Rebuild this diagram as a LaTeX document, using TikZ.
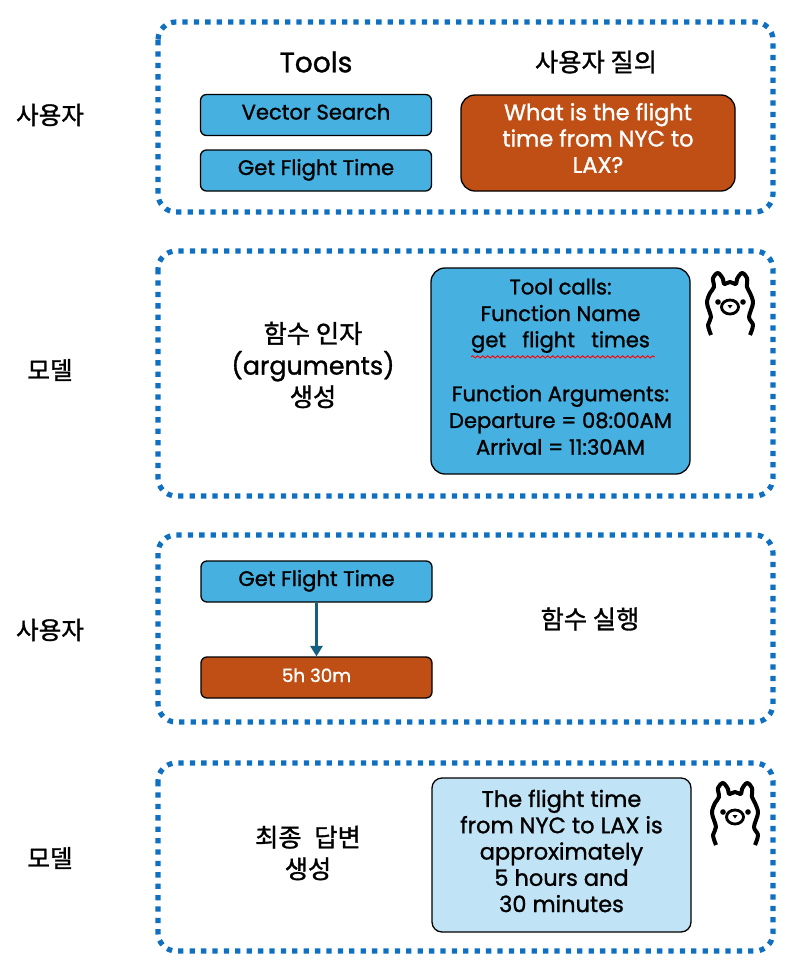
\documentclass[tikz,border=0pt]{standalone}
\usepackage{fontspec}
\setmainfont[RawFeature={embolden=1.2}]{Poppins}
\newfontfamily\kofont[RawFeature={embolden=1.2}]{Noto Sans CJK KR}
\usetikzlibrary{arrows.meta,decorations.pathmorphing}

\newdimen\pxu
\pxu=0.025cm
\definecolor{panelblue}{HTML}{0F6FC0}
\definecolor{toolblue}{HTML}{46B1E1}
\definecolor{rust}{HTML}{C04F15}
\definecolor{paleblue}{HTML}{C0E4F5}
\definecolor{arrowblue}{HTML}{156082}

\tikzset{
  panel/.style={draw=panelblue,line width=5.2\pxu,dash pattern=on 5.3\pxu off 6.1\pxu,rounded corners=18\pxu},
  toolbox/.style={draw=black,fill=toolblue,line width=1.3\pxu,rounded corners=6\pxu,minimum width=231\pxu,minimum height=41\pxu,text height=10pt,text depth=3.6pt,font=\fontsize{15}{18.5}\selectfont},
  querybox/.style={draw=black,fill=rust,line width=1.3\pxu,rounded corners=14\pxu},
  bluebox/.style={draw=black,fill=toolblue,line width=1.3\pxu,rounded corners=14\pxu},
  palebox/.style={draw=black,fill=paleblue,line width=1.3\pxu,rounded corners=10\pxu},
  boxtext/.style={align=center,font=\fontsize{15}{19}\selectfont},
  rolelabel/.style={font=\kofont\fontsize{17.5}{20}\selectfont},
  title/.style={align=center,font=\kofont\fontsize{18}{22.5}\selectfont},
  pics/llama/.style={code={
    \draw[line width=4\pxu,line join=round,fill=white] plot[smooth,tension=0.55] coordinates {
      (-19,30) (-22,20) (-19,12) (-23,-2) (-20,-12) (-16,-18) (-17,-27) (-12,-32) (-7,-26) (-6,-21)
      (0,-23) (6,-21) (7,-26) (12,-32) (17,-27) (17,-18) (20,-12) (23,-2) (19,12) (23,20) (20,30)};
    \fill (-12,-3) circle (2.8);
    \fill (13,-3) circle (2.8);
    \draw[line width=2.8\pxu] (0,2) ellipse (8.5 and 7);
    \fill (-2.5,0) -- (2.5,0) -- (0,3.5) -- cycle;
  }},
}

\begin{document}
\begin{tikzpicture}[x=0.025cm,y=-0.025cm]
  \useasboundingbox (0,0) rectangle (800,974);

  % panels
  \draw[panel] (158,22) rectangle (773,212);
  \draw[panel] (158,251) rectangle (773,496);
  \draw[panel] (158,535) rectangle (773,722);
  \draw[panel] (158,763) rectangle (773,951);

  % left column
  \node[rolelabel] (userA) at (50,115) {사용자};
  \node[rolelabel] (modelA) at (50,370) {모델};
  \node[rolelabel] (userB) at (50,630) {사용자};
  \node[rolelabel] (modelB) at (50,858) {모델};

  % user query
  \node[title] (toolstitle) at (316,62) {\normalfont\fontsize{20}{22.5}\selectfont Tools};
  \node[title] (querytitle) at (596,62) {사용자 질의};
  \node[toolbox] (vector) at (316,115) {Vector Search};
  \node[toolbox] (getflight) at (316,170.5) {Get Flight Time};
  \node[querybox,minimum width=274\pxu,minimum height=96\pxu] (querybg) at (598,143) {};
  \node[boxtext,text=white,font=\fontsize{16}{18.7}\selectfont] (query) at (598,138) {What is the flight\\time from NYC to\\LAX?};

  % tool call
  \node[title] (argtitle) at (313,365) {함수 인자\\{\normalfont (arguments)}\\생성};
  \node[bluebox,minimum width=259\pxu,minimum height=206\pxu] (callbox) at (560.5,371) {};
  \node[boxtext] (callname) at (560.5,300) {Tool calls:\\Function Name};
  \node[boxtext] (callfunc) at (560.5,342) {get~\enspace flight~\enspace times};
  \node[boxtext] (callargs) at (560.5,420) {Function Arguments:\\Departure = 08:00AM\\Arrival = 11:30AM};
  \draw[red,line width=0.9\pxu,decorate,decoration={snake,amplitude=1.1\pxu,segment length=5\pxu}]
    (callfunc.south west) ++(5,-1) coordinate (wavyA) -- (wavyA -| callfunc.south east);
  \pic at (730,305) {llama};

  % run
  \node[toolbox] (getflightB) at (316.5,581.5) {Get Flight Time};
  \node[toolbox,fill=rust,text=white,font=\fontsize{13}{18.5}\selectfont] (duration) at (316.5,677.5) {5h 30m};
  \draw[-{Triangle[length=2.6mm,width=3mm]},arrowblue,line width=3\pxu] (getflightB) -- (duration);
  \node[title] (runtitle) at (590,619) {함수 실행};

  % answer
  \node[title] (answertitle) at (308,853) {최종\enspace 답변\\생성};
  \node[palebox,minimum width=259\pxu,minimum height=154\pxu] (answerbg) at (561.5,855) {};
  \node[boxtext,font=\fontsize{16}{18.7}\selectfont] (answer) at (561.5,851) {The flight time\\from NYC to LAX is\\approximately\\5 hours and\\30 minutes};
  \pic at (735,815) {llama};
\end{tikzpicture}
\end{document}
